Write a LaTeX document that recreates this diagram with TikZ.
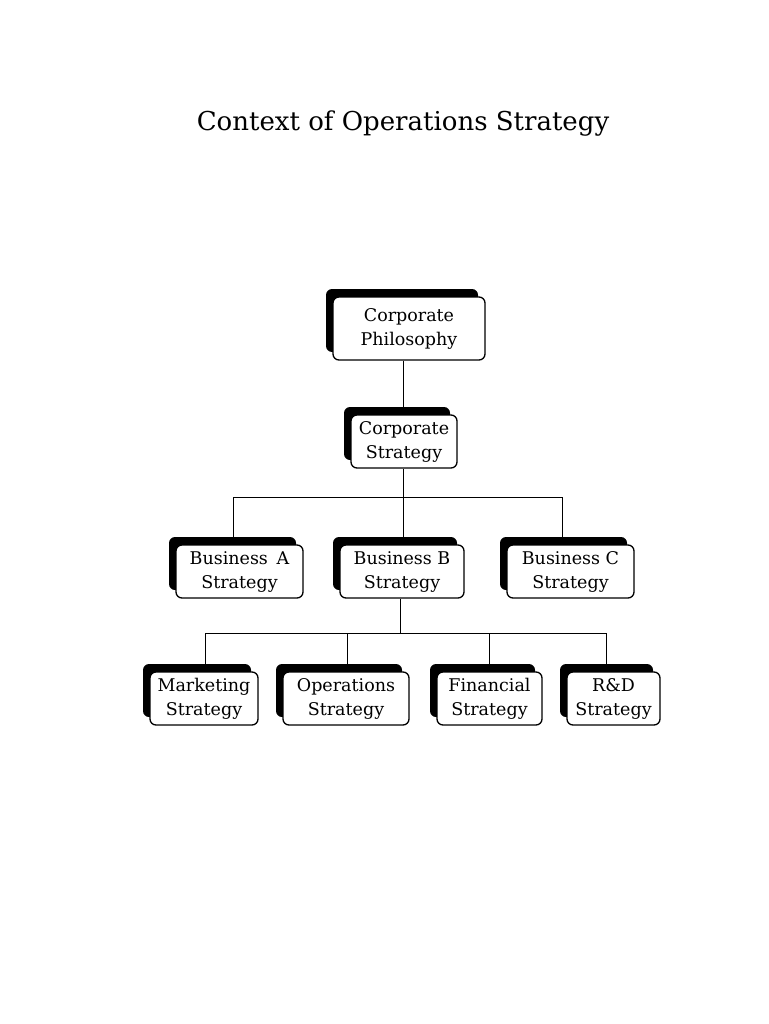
\documentclass[tikz,border=0pt]{standalone}
\usepackage{fontspec}
\setmainfont{DejaVu Serif}
\usetikzlibrary{shadows}
\begin{document}
\begin{tikzpicture}[x=1pt,y=-1pt,
  bx/.style={draw,line width=1.3pt,fill=white,rounded corners=6pt,align=center,inner sep=0pt,
    font=\fontsize{17.5}{24}\selectfont,
    drop shadow={shadow xshift=-7pt,shadow yshift=8pt,fill=black,opacity=1}},
  ln/.style={line width=1pt}]
\useasboundingbox (0,0) rectangle (768,1024);
\node[font=\fontsize{26}{30}\selectfont] (title) at (403,124) {Context of Operations Strategy};
\newcommand\mkbox[6]{\node[bx,minimum width=#4-#2,minimum height=#5-#3] (#1) at ({(#2+#4)/2},{(#3+#5)/2}) {#6};}
\mkbox{cp}{333}{297}{485}{360}{Corporate\\Philosophy}
\mkbox{cs}{351}{415}{457}{468}{Corporate\\Strategy}
\mkbox{ba}{176}{545}{303}{598}{Business\enspace A\\Strategy}
\mkbox{bb}{340}{545}{464}{598}{Business B\\Strategy}
\mkbox{bc}{507}{545}{634}{598}{Business C\\Strategy}
\mkbox{mk}{150}{672}{258}{725}{Marketing\\Strategy}
\mkbox{op}{283}{672}{409}{725}{Operations\\Strategy}
\mkbox{fi}{437}{672}{542}{725}{Financial\\Strategy}
\mkbox{rd}{567}{672}{660}{725}{R\&D\\Strategy}
\coordinate (j1) at (403,497);
\coordinate (j2) at (400,633);
\draw[ln] (cp.south -| 403,0) -- (cs.north -| 403,0);
\draw[ln] (cs.south -| 403,0) -- (j1);
\draw[ln] (ba.north -| 233,0) -- (233,497) -- (562,497) -- (bc.north -| 562,0);
\draw[ln] (j1) -- (bb.north -| 403,0);
\draw[ln] (bb.south -| 400,0) -- (j2);
\draw[ln] (mk.north -| 205,0) -- (205,633) -- (606,633) -- (rd.north -| 606,0);
\draw[ln] (op.north -| 347,0) -- (347,633);
\draw[ln] (fi.north -| 489,0) -- (489,633);
\end{tikzpicture}
\end{document}
